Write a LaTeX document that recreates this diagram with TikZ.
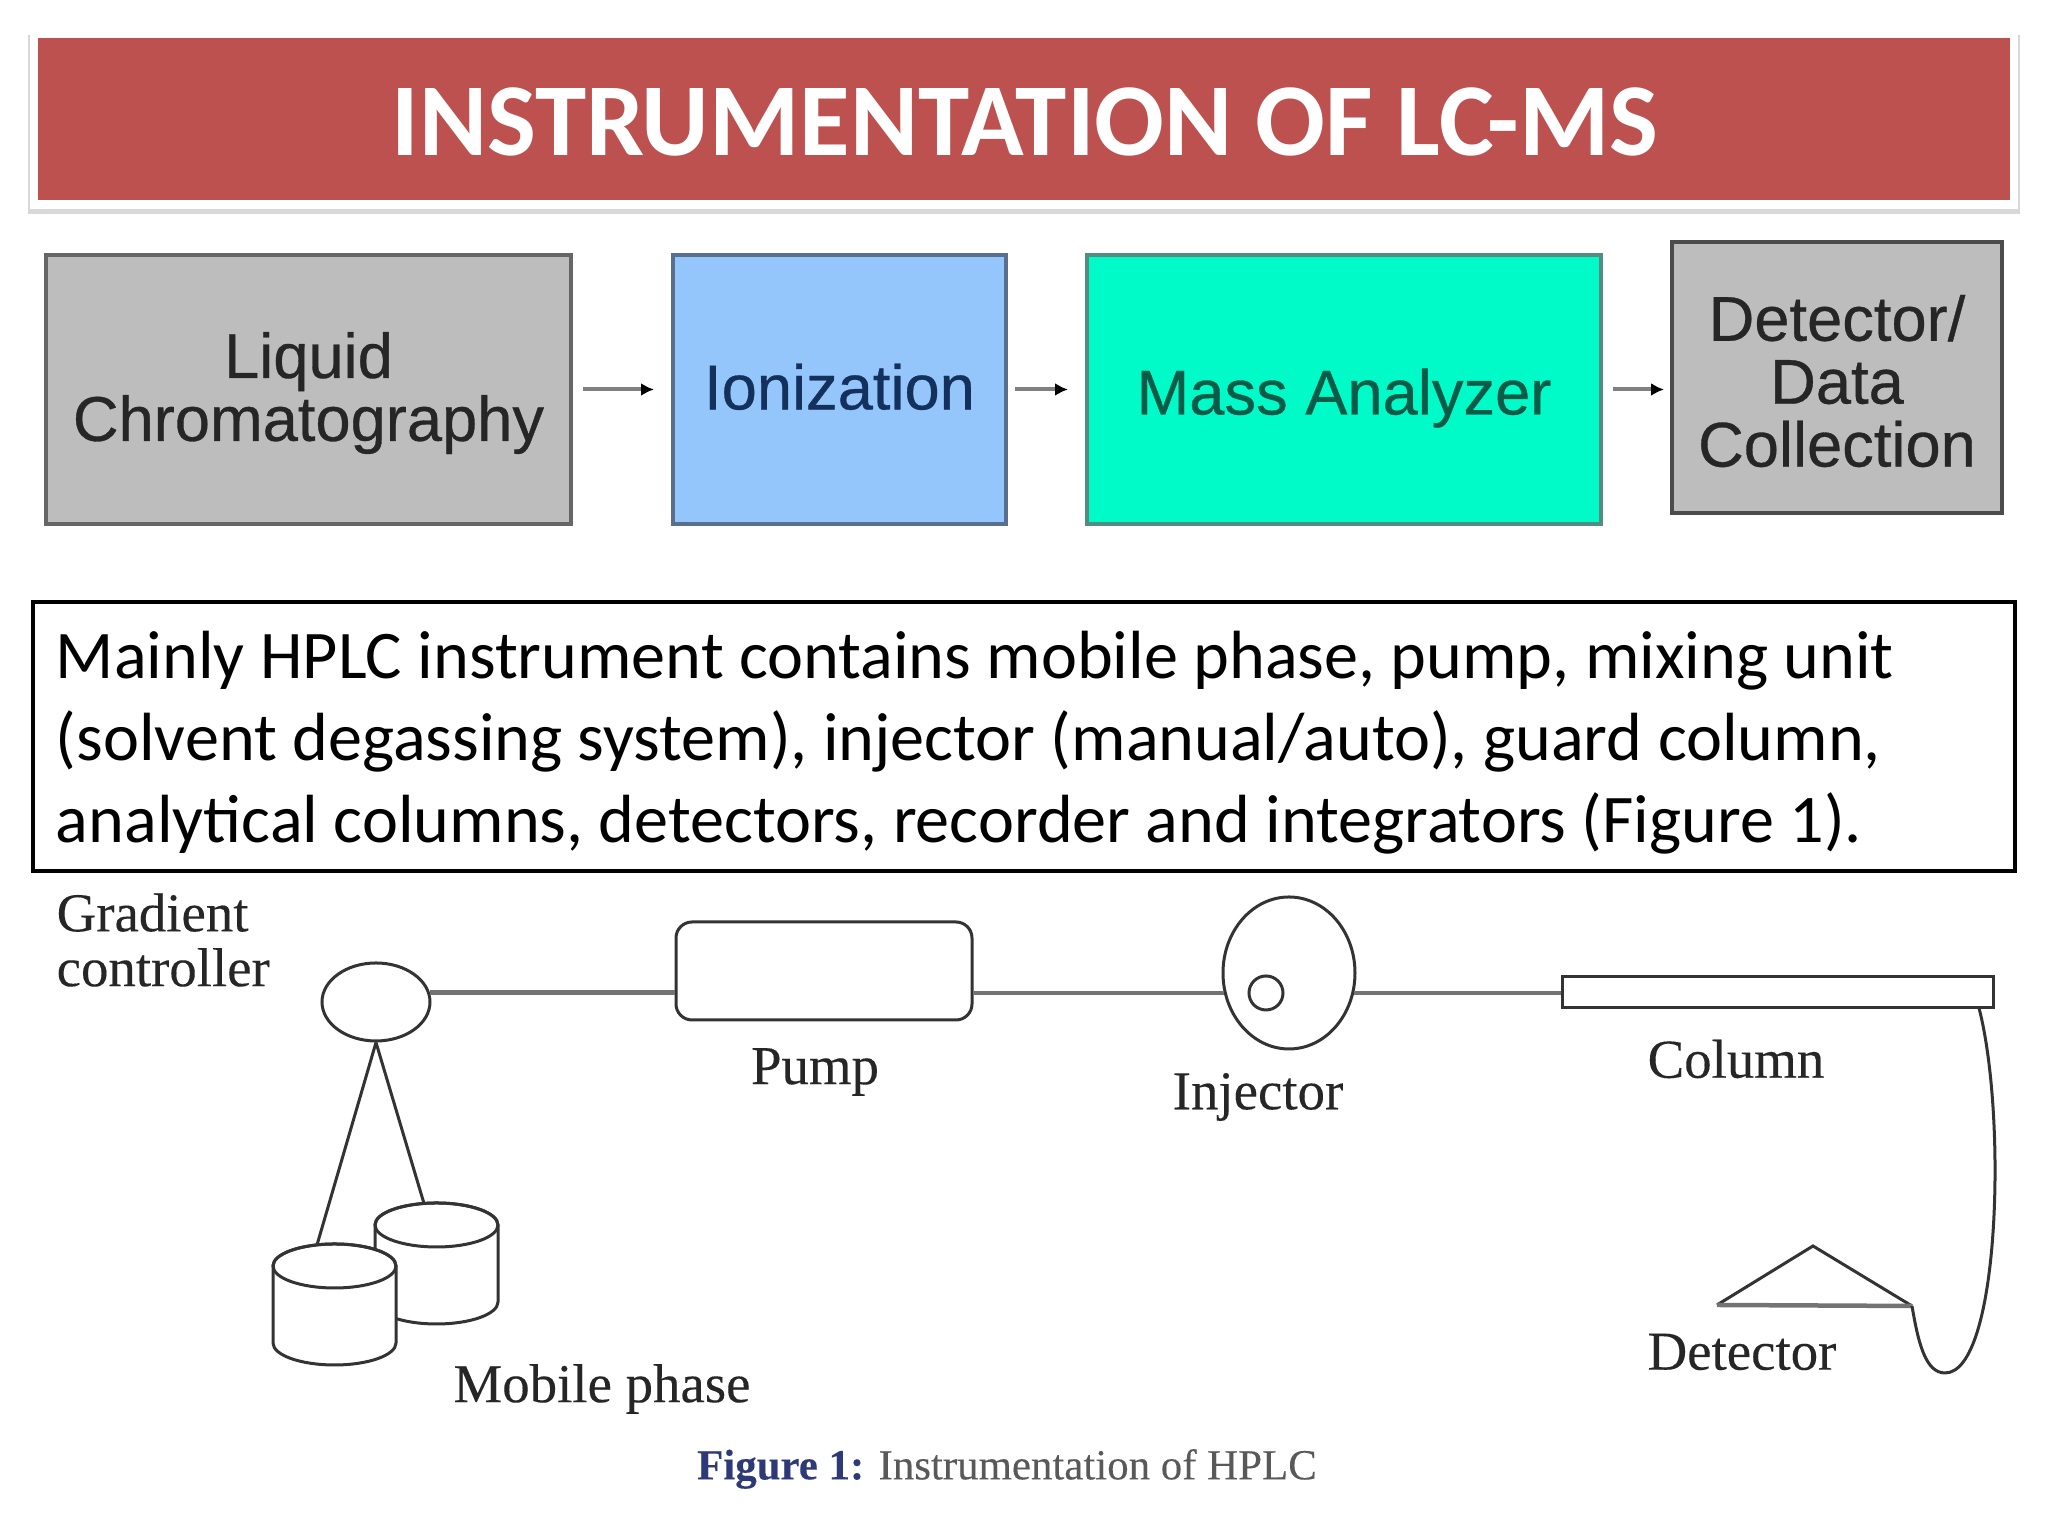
\documentclass[tikz,border=0pt]{standalone}
\usepackage{xcolor}
\usepackage{fontspec}
\usepackage{tikz}
\usetikzlibrary{shapes.geometric,shadows,arrows.meta}
\setmainfont{Carlito}
\newfontfamily\boxfont[FakeBold=0.5]{Liberation Sans}
\newfontfamily\figfont[FakeBold=0.2]{Liberation Serif}
\definecolor{TitleRed}{HTML}{BC514F}
\definecolor{BoxGray}{HTML}{BDBDBD}
\definecolor{BoxBlue}{HTML}{94C6FB}
\definecolor{BoxGreen}{HTML}{00FBC8}
\definecolor{IonNavy}{HTML}{14305C}
\definecolor{MassGreen}{HTML}{0A5C48}
\definecolor{CaptionNavy}{HTML}{2E3A78}
\tikzset{
  stagebox/.style={draw=#1, line width=0.04cm, minimum height=2.69cm, align=center, inner sep=0pt,
    font=\boxfont\fontsize{18}{17.9}\selectfont},
  stagelink/.style={draw=black!50, line width=0.04cm, -{Latex[black,length=0.13cm,width=0.13cm]}},
  figlabel/.style={text=black!85, inner sep=0pt, align=left, font=\figfont\fontsize{15.6}{15.6}\selectfont},
  part/.style={draw=black!80, line width=0.03cm, fill=white, inner sep=0pt},
  tube/.style={draw=black!55, line width=0.045cm},
  wire/.style={draw=black!80, line width=0.03cm}
}
\begin{document}
\begin{tikzpicture}
  \useasboundingbox (0,0) rectangle (20.48,15.36);
  % title
  \node[name=titleframe, fill=white, minimum width=19.88cm, minimum height=1.79cm,
    drop shadow={shadow xshift=0cm, shadow yshift=-0.05cm, shadow scale=1.002, fill=black!30}] at (10.24,14.165) {};
  \node[name=titlebar, fill=TitleRed, minimum width=19.72cm, minimum height=1.62cm] at (10.24,14.17) {};
  \node[name=titletext, text=white, font=\fontsize{29.4}{29.4}\selectfont\bfseries] at (10.25,14.14) {INSTRUMENTATION OF LC-MS};
  % stages
  \node[stagebox=black!60, fill=BoxGray, minimum width=5.25cm, text=black!85] (liquid) at (3.085,11.465) {\rule{0pt}{0.53cm}Liquid\\Chromatography};
  \node[stagebox=IonNavy!70, fill=BoxBlue, minimum width=3.33cm, text=IonNavy, text depth=0.06cm] (ionization) at (8.395,11.465) {Ionization};
  \node[stagebox=MassGreen!70, fill=BoxGreen, minimum width=5.14cm, text=MassGreen, text height=0.63cm, text depth=0.13cm] (massanalyzer) at (13.44,11.465) {Mass Analyzer};
  \node[stagebox=black!70, fill=BoxGray, minimum width=3.30cm, minimum height=2.71cm, text=black!85] (detectorbox) at (18.37,11.585) {\rule{0pt}{0.53cm}Detector/\\Data\\Collection};
  \draw[stagelink, shorten <=0.1cm, shorten >=0.17cm] (liquid) -- (ionization);
  \draw[stagelink, shorten <=0.065cm, shorten >=0.17cm] (ionization) -- (massanalyzer);
  \draw[stagelink, shorten <=0.1cm, shorten >=0.06cm] (massanalyzer.east) -- (massanalyzer.east -| detectorbox.west);
  % text box
  \node[name=textbox, draw=black, line width=0.045cm, minimum width=19.82cm, minimum height=2.69cm, text width=19.36cm, align=flush left,
    font=\fontsize{19.4}{23.4}\selectfont] at (10.24,7.995)
    {\rule{0pt}{0.6cm}Mainly HPLC instrument contains mobile phase, pump, mixing unit\\
     (solvent degassing system), injector (manual/auto), guard column,\\
     analytical columns, detectors, recorder and integrators (Figure 1).};
  % figure parts
  \node[part, ellipse, minimum width=1.08cm, minimum height=0.78cm] (gradctrl) at (3.76,5.34) {};
  \node[part, rounded corners=0.16cm, minimum width=2.96cm, minimum height=0.98cm] (pump) at (8.24,5.65) {};
  \node[part, ellipse, minimum width=1.32cm, minimum height=1.52cm] (injector) at (12.89,5.63) {};
  \node[part, circle, minimum size=0.34cm] (injport) at (12.66,5.43) {};
  \node[part, minimum width=4.31cm, minimum height=0.31cm] (column) at (17.775,5.435) {};
  \coordinate (backtop) at (4.24,3.325);
  \coordinate (fronttop) at (3.17,2.91);
  \coordinate (colbend) at (19.79,5.28);
  \coordinate (detleft) at (17.17,2.31);
  \coordinate (dettop) at (18.13,2.90);
  \coordinate (detright) at (19.12,2.30);
  \draw[wire] (gradctrl.south) -- (backtop);
  \draw[wire] (gradctrl.south) -- (fronttop);
  % bottles, back one first
  \foreach \bx/\by in {4.365/3.11, 3.345/2.70} {
    \filldraw[wire, fill=white] (\bx-0.615,\by) -- (\bx-0.615,\by-0.77)
      arc[start angle=180, end angle=360, x radius=0.615, y radius=0.22] -- (\bx+0.615,\by)
      arc[start angle=0, end angle=180, x radius=0.615, y radius=0.22] -- cycle;
    \draw[wire] (\bx,\by) ellipse[x radius=0.615, y radius=0.22];
  }
  \draw[tube] (gradctrl.10) -- (pump.west |- gradctrl.10);
  \draw[tube] (pump.east |- injector.197) -- (injector.197);
  \draw[tube] (injector.-17) -- (injector.-17 -| column.west);
  \draw[wire] (detleft) -- (dettop) -- (detright);
  \draw[tube] (detleft) -- (detright);
  \draw[wire] (colbend) .. controls (20.07,4.2) and (20.0,1.63) .. (19.45,1.63)
    .. controls (19.25,1.63) and (19.18,1.95) .. (detright);
  % figure labels
  \node[figlabel, anchor=west] (gradlabel) at (0.56,5.96) {Gradient\\controller};
  \node[figlabel] (pumplabel) at (8.15,4.64) {Pump};
  \node[figlabel] (injlabel) at (12.58,4.39) {Injector};
  \node[figlabel] (collabel) at (17.36,4.77) {Column};
  \node[figlabel] (detlabel) at (17.42,1.84) {Detector};
  \node[figlabel] (mobilelabel) at (6.02,1.47) {Mobile phase};
  \node[inner sep=0pt, font=\figfont\fontsize{12.2}{12.2}\selectfont, text=black!65] (caption) at (10.07,0.67)
    {\textcolor{CaptionNavy}{\bfseries Figure 1:} Instrumentation of HPLC};
\end{tikzpicture}
\end{document}
